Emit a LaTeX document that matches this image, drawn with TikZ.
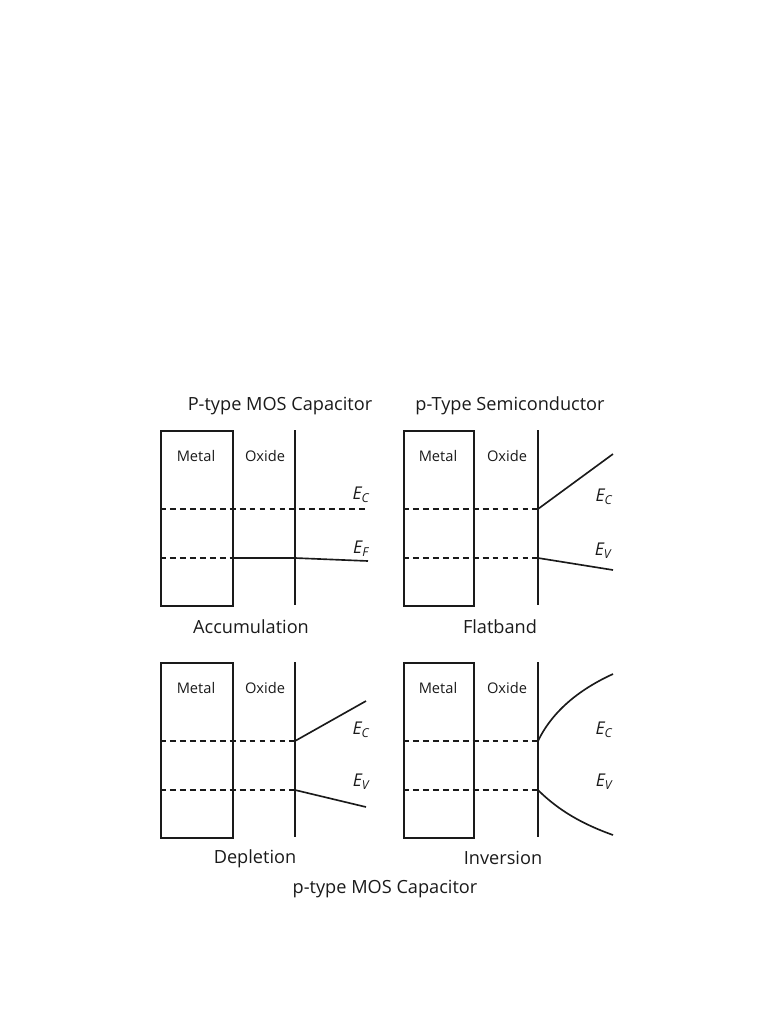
\documentclass[tikz,border=0pt]{standalone}
\usepackage{fontspec}
\setmainfont{Open Sans}
\usepackage{xcolor}
\usepackage{tikz}
\usetikzlibrary{positioning,calc}
\definecolor{bandline}{HTML}{1A1A1A}
\tikzstyle{metalbox} = [rectangle, draw=bandline, line width=1.4pt, minimum width=72*0.03cm, minimum height=175*0.03cm, anchor=north west, inner sep=0pt]
\tikzstyle{layertext} = [font=\fontsize{12.5}{14}\selectfont, text=bandline]
\tikzstyle{captext} = [font=\fontsize{15.5}{18}\selectfont, text=bandline]
\tikzstyle{leveltext} = [font=\fontsize{15}{17}\selectfont\itshape, text=bandline]
\tikzstyle{iface} = [line width=1.4pt, bandline]
\tikzstyle{dashlevel} = [line width=1.2pt, bandline, dash pattern=on 5pt off 3.5pt]
\tikzstyle{band} = [line width=1.4pt, bandline]

\begin{document}
\begin{tikzpicture}[x=0.03cm, y=-0.03cm]
\useasboundingbox (0,0) rectangle (768,1024);

% titles
\node[captext] (toptitle) at (280,406) {P-type MOS Capacitor};
\node[captext] (semititle) at (510,406) {p-Type Semiconductor};
\node[captext] (bottitle) at (385,889) {p-type MOS Capacitor};

% accumulation
\node[metalbox] (metalA) at (160,430) {};
\node[layertext] (metalAtxt) at (196,456) {Metal};
\node[layertext] (oxideAtxt) at (265,456) {Oxide};
\coordinate (ifAtop) at (295,430);
\coordinate (ifAbot) at (295,605);
\draw[iface] (ifAtop) -- (ifAbot);
\coordinate (ecA0) at (160,509);
\coordinate (ecA1) at (368,509);
\draw[dashlevel] (ecA0) -- (ecA1);
\coordinate (efA0) at (160,558);
\coordinate (efA1) at (232,558);
\coordinate (efA2) at (295,558);
\coordinate (efA3) at (368,561);
\draw[dashlevel] (efA0) -- (efA1);
\draw[band] (efA1) -- (efA2) -- (efA3);
\node[leveltext] (ecAtxt) at (361,495) {E\textsubscript{C}};
\node[leveltext] (efAtxt) at (361,549) {E\textsubscript{F}};
\node[captext] (accum) at (251,627) {Accumulation};

% flatband
\node[metalbox, minimum width=70*0.03cm] (metalB) at (403,430) {};
\node[layertext] (metalBtxt) at (438,456) {Metal};
\node[layertext] (oxideBtxt) at (507,456) {Oxide};
\coordinate (ifBtop) at (538,430);
\coordinate (ifBbot) at (538,605);
\draw[iface] (ifBtop) -- (ifBbot);
\coordinate (ecB0) at (403,509);
\coordinate (ecB1) at (538,509);
\coordinate (ecB2) at (613,454);
\draw[dashlevel] (ecB0) -- (ecB1);
\draw[band] (ecB1) -- (ecB2);
\coordinate (evB0) at (403,558);
\coordinate (evB1) at (538,558);
\coordinate (evB2) at (613,570);
\draw[dashlevel] (evB0) -- (evB1);
\draw[band] (evB1) -- (evB2);
\node[leveltext] (ecBtxt) at (604,497) {E\textsubscript{C}};
\node[leveltext] (evBtxt) at (603,551) {E\textsubscript{V}};
\node[captext] (flat) at (500,627) {Flatband};

% depletion
\node[metalbox] (metalC) at (160,662) {};
\node[layertext] (metalCtxt) at (196,688) {Metal};
\node[layertext] (oxideCtxt) at (265,688) {Oxide};
\coordinate (ifCtop) at (295,662);
\coordinate (ifCbot) at (295,837);
\draw[iface] (ifCtop) -- (ifCbot);
\coordinate (ecC0) at (160,741);
\coordinate (ecC1) at (295,741);
\coordinate (ecC2) at (366,701);
\draw[dashlevel] (ecC0) -- (ecC1);
\draw[band] (ecC1) -- (ecC2);
\coordinate (evC0) at (160,790);
\coordinate (evC1) at (295,790);
\coordinate (evC2) at (366,807);
\draw[dashlevel] (evC0) -- (evC1);
\draw[band] (evC1) -- (evC2);
\node[leveltext] (ecCtxt) at (361,730) {E\textsubscript{C}};
\node[leveltext] (evCtxt) at (361,782) {E\textsubscript{V}};
\node[captext] (deplete) at (255,859) {Depletion};

% inversion
\node[metalbox, minimum width=70*0.03cm] (metalD) at (403,662) {};
\node[layertext] (metalDtxt) at (438,688) {Metal};
\node[layertext] (oxideDtxt) at (507,688) {Oxide};
\coordinate (ifDtop) at (538,662);
\coordinate (ifDbot) at (538,837);
\draw[iface] (ifDtop) -- (ifDbot);
\coordinate (ecD0) at (403,741);
\coordinate (ecD1) at (538,741);
\coordinate (ecD2) at (613,674);
\draw[dashlevel] (ecD0) -- (ecD1);
\draw[band] (ecD1) .. controls (552,712) and (578,690) .. (ecD2);
\coordinate (evD0) at (403,790);
\coordinate (evD1) at (538,790);
\coordinate (evD2) at (613,835);
\draw[dashlevel] (evD0) -- (evD1);
\draw[band] (evD1) .. controls (558,810) and (582,824) .. (evD2);
\node[leveltext] (ecDtxt) at (604,730) {E\textsubscript{C}};
\node[leveltext] (evDtxt) at (604,782) {E\textsubscript{V}};
\node[captext] (invert) at (503,858) {Inversion};

\end{tikzpicture}
\end{document}
